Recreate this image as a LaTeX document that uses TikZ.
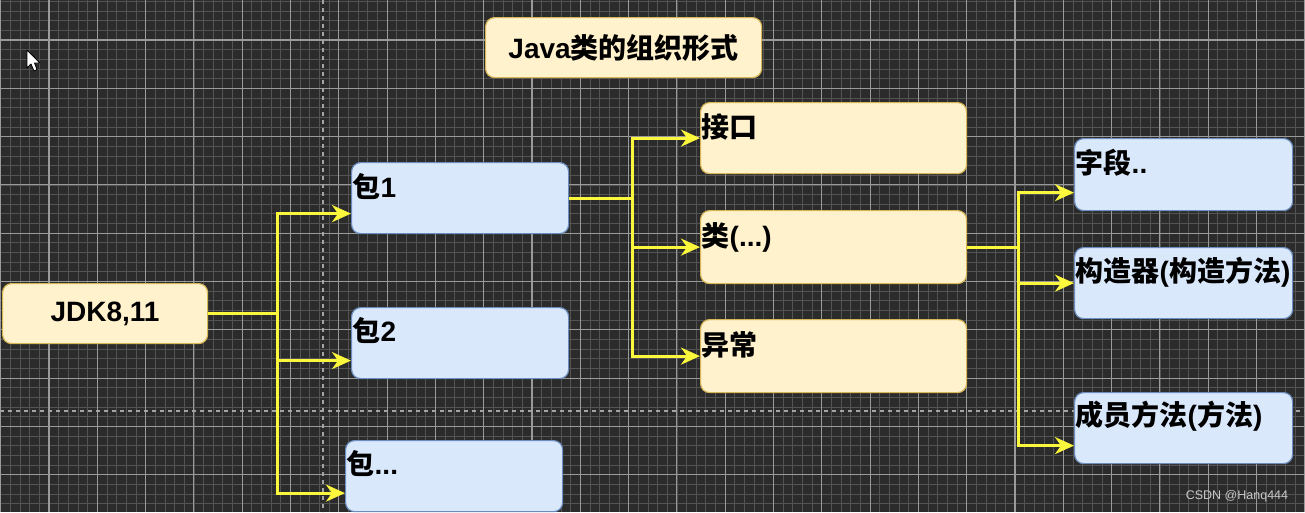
\documentclass[tikz,border=0pt]{standalone}
\usepackage{fontspec}
\setmainfont{Liberation Sans}
\newfontfamily\cjk{Noto Sans CJK SC}
\usetikzlibrary{arrows.meta}
\definecolor{bgc}{HTML}{2B2B2B}
\definecolor{minorc}{HTML}{535353}
\definecolor{majorc}{HTML}{9A9A9A}
\definecolor{yfill}{HTML}{FFF2CC}
\definecolor{ydraw}{HTML}{D6B656}
\definecolor{bfill}{HTML}{DAE8FC}
\definecolor{bdraw}{HTML}{6C8EBF}
\definecolor{edgec}{HTML}{FAF73C}
\definecolor{wmc}{HTML}{C8C8C8}
\tikzset{
  minorline/.style={draw=minorc, line width=0.8pt},
  majorline/.style={draw=majorc, line width=1.1pt},
  guide/.style={draw=majorc!90!white, line width=1.3pt, dash pattern=on 4pt off 4pt},
  ybox/.style={draw=ydraw, fill=yfill, line width=1.2pt, rounded corners=9pt, anchor=north west, inner sep=0pt},
  bbox/.style={draw=bdraw, fill=bfill, line width=1.2pt, rounded corners=9pt, anchor=north west, inner sep=0pt},
  lbl/.style={anchor=west, inner sep=1.5pt, font=\fontsize{28}{31}\selectfont\bfseries, text=black},
  ctr/.style={font=\fontsize{28}{31}\selectfont\bfseries, text=black, inner sep=0pt},
  edge/.style={draw=edgec, line width=3pt, -{Stealth[length=19pt, width=17pt, inset=6pt]}},
}
\begin{document}
\begin{tikzpicture}[x=1pt, y=-1pt]
\useasboundingbox (0,0) rectangle (1305,512);
\fill[bgc] (0,0) rectangle (1305,512);
\begin{scope}
\clip (0,0) rectangle (1305,512);
\foreach \i in {0,...,135} \draw[minorline] ({0.7+9.66*\i},0) -- ++(0,512);
\foreach \j in {0,...,53} \draw[minorline] (0,{1.36+9.66*\j}) -- ++(1305,0);
\foreach \i in {0,...,27} \draw[majorline] ({0.7+48.3*\i},0) -- ++(0,512);
\foreach \j in {0,...,10} \draw[majorline] (0,{40+48.3*\j}) -- ++(1305,0);
\draw[guide] (323,0) -- (323,512);
\draw[guide] (0,411) -- (1305,411);
\end{scope}

% cursor
\filldraw[fill=white, draw=black, line width=0.8pt, line join=round]
  (27,50) -- (27,68) -- (31,64) -- (34,71) -- (37,69.5) -- (34.5,63) -- (40,63) -- cycle;

% title
\node[ybox, minimum width=276pt, minimum height=60pt] (title) at (485,17) {};
\node[ctr] (titletext) at (title.center) {Java{\cjk 类的组织形式}};

% JDK
\node[ybox, minimum width=205pt, minimum height=60pt] (jdk) at (2,283) {};
\node[ctr] (jdktext) at (jdk.center) {JDK8,11};

% packages
\node[bbox, minimum width=217pt, minimum height=71pt] (p1) at (351,162) {};
\node[bbox, minimum width=217pt, minimum height=71pt] (p2) at (351,307) {};
\node[bbox, minimum width=217pt, minimum height=71pt] (p3) at (345,440) {};
\node[lbl] (p1t) at ([yshift=-25pt]p1.north west) {{\cjk 包}1};
\node[lbl] (p2t) at ([yshift=-24pt]p2.north west) {{\cjk 包}2};
\node[lbl] (p3t) at ([yshift=-23pt]p3.north west) {{\cjk 包}...};

% class kinds
\node[ybox, minimum width=266pt, minimum height=71pt] (k1) at (700,102) {};
\node[ybox, minimum width=266pt, minimum height=73pt] (k2) at (700,210) {};
\node[ybox, minimum width=266pt, minimum height=73pt] (k3) at (700,319) {};
\node[lbl] (k1t) at ([yshift=-25pt]k1.north west) {{\cjk 接口}};
\node[lbl] (k2t) at ([yshift=-27pt]k2.north west) {{\cjk 类}(...)};
\node[lbl] (k3t) at ([yshift=-26pt]k3.north west) {{\cjk 异常}};

% members
\node[bbox, minimum width=218pt, minimum height=72pt] (m1) at (1074,138) {};
\node[bbox, minimum width=218pt, minimum height=71pt] (m2) at (1074,247) {};
\node[bbox, minimum width=218pt, minimum height=71pt] (m3) at (1074,392) {};
\node[lbl] (m1t) at ([yshift=-25pt]m1.north west) {{\cjk 字段}..};
\node[lbl] (m2t) at ([yshift=-25pt]m2.north west) {{\cjk 构造器}({\cjk 构造方法})};
\node[lbl] (m3t) at ([yshift=-24pt]m3.north west) {{\cjk 成员方法}({\cjk 方法})};

% bus coordinates
\coordinate (bus1) at (277,0);
\coordinate (bus2) at (632,0);
\coordinate (bus3) at (1018,0);

% edges
\draw[edge] (jdk.east) -- (jdk.east -| bus1) |- ([yshift=-15.5pt]p1.west);
\draw[edge] (jdk.east) -- (jdk.east -| bus1) |- ([yshift=-17.5pt]p2.west);
\draw[edge] (jdk.east) -- (jdk.east -| bus1) |- ([yshift=-17pt]p3.west);

\draw[edge] (p1.east) -- (p1.east -| bus2) |- (k1.west);
\draw[edge] (p1.east) -- (p1.east -| bus2) |- (k2.west);
\draw[edge] (p1.east) -- (p1.east -| bus2) |- (k3.west);

\draw[edge] (k2.east) -- (k2.east -| bus3) |- ([yshift=-18pt]m1.west);
\draw[edge] (k2.east) -- (k2.east -| bus3) |- (m2.west);
\draw[edge] (k2.east) -- (k2.east -| bus3) |- ([yshift=-17.5pt]m3.west);

% watermark
\node[text=wmc, font=\fontsize{12.5}{14}\selectfont, inner sep=0pt] (wm) at (1237,496) {CSDN @Hanq444};
\end{tikzpicture}
\end{document}
